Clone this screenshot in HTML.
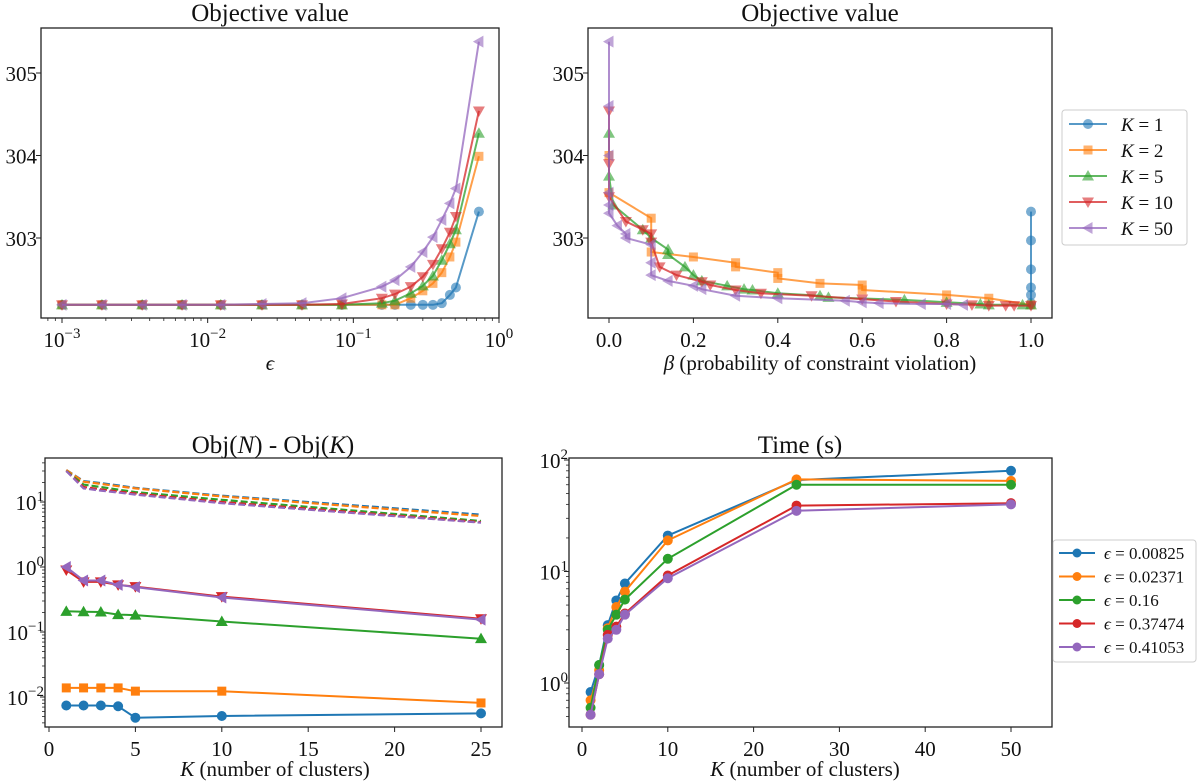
<!DOCTYPE html>
<html><head><meta charset="utf-8">
<style>
html,body{margin:0;padding:0;background:#fff;}
svg{display:block;font-family:"Liberation Serif",serif;}
</style></head>
<body>
<svg id="fig" width="1200" height="782" viewBox="0 0 1200 782" xmlns="http://www.w3.org/2000/svg"></svg>
<script>
const colors=['#1f77b4','#ff7f0e','#2ca02c','#d62728','#9467bd'];
// ---- Panel A: objective vs epsilon
const epsValues=[0.001,0.00188,0.00355,0.00667,0.0123,0.0236,0.0444,0.0835,0.157,0.193,0.248,0.30,0.352,0.405,0.46,0.506,0.728];
const objK1=[302.19,302.19,302.19,302.19,302.19,302.19,302.19,302.19,302.19,302.19,302.19,302.19,302.19,302.21,302.31,302.40,303.32];
const objK2=[302.19,302.19,302.19,302.19,302.19,302.19,302.19,302.19,302.19,302.19,302.27,302.36,302.45,302.58,302.77,302.95,303.99];
const objK5=[302.19,302.19,302.19,302.19,302.19,302.19,302.19,302.19,302.21,302.24,302.33,302.42,302.54,302.73,302.93,303.10,304.27];
const objK10=[302.19,302.19,302.19,302.19,302.19,302.19,302.19,302.20,302.27,302.32,302.41,302.53,302.68,302.87,303.07,303.26,304.54];
const objK50=[302.19,302.19,302.19,302.19,302.19,302.20,302.21,302.27,302.41,302.49,302.65,302.83,303.01,303.22,303.42,303.60,305.38];
const legendA=['K = 1','K = 2','K = 5','K = 10','K = 50'];
// ---- Panel B: objective vs beta
const betaK1=[1,1,1,1,1,1,1];
const objBK1=[303.32,302.97,302.62,302.40,302.31,302.21,302.19];
const betaK2=[0,0,0.1,0.1,0.2,0.3,0.3,0.4,0.4,0.5,0.6,0.6,0.8,0.9,1.0];
const objBK2=[304.0,303.55,303.24,302.83,302.77,302.70,302.65,302.58,302.51,302.45,302.43,302.37,302.31,302.27,302.19];
const betaK5=[0,0,0.01,0.08,0.1,0.14,0.14,0.18,0.2,0.22,0.28,0.32,0.34,0.4,0.5,0.52,0.7,0.8,0.88,0.9,0.98,1.0];
const objBK5=[304.27,303.75,303.4,303.1,303.0,302.86,302.8,302.65,302.55,302.48,302.42,302.38,302.37,302.33,302.30,302.28,302.25,302.22,302.2,302.19,302.19,302.19];
const betaK10=[0,0,0,0.04,0.08,0.1,0.1,0.12,0.16,0.22,0.24,0.3,0.36,0.48,0.6,0.68,0.8,0.86,0.9,0.94,0.96,1.0];
const objBK10=[304.54,303.9,303.5,303.2,303.1,303.05,302.95,302.65,302.55,302.47,302.43,302.37,302.33,302.3,302.26,302.23,302.2,302.19,302.18,302.18,302.18,302.18];
const betaK50=[0,0,0,0,0,0,0.02,0.04,0.04,0.1,0.1,0.1,0.14,0.2,0.22,0.3,0.4,0.56,0.6,0.64,0.74,0.8,0.84];
const objBK50=[305.38,304.6,304.0,303.55,303.4,303.3,303.15,303.05,303.0,302.92,302.7,302.55,302.48,302.42,302.38,302.3,302.27,302.24,302.22,302.21,302.2,302.2,302.19];
// ---- Panel C: Obj(N)-Obj(K)
const kValuesC=[1,2,3,4,5,10,25];
const gapSolid=[[0.0074,0.0074,0.0074,0.0072,0.0048,0.0051,0.0056],[0.0138,0.0138,0.0138,0.0138,0.0123,0.0123,0.0081],[0.208,0.205,0.203,0.185,0.182,0.145,0.079],[0.9,0.59,0.59,0.53,0.5,0.35,0.16],[1.0,0.62,0.62,0.53,0.49,0.34,0.155]];
const gapDashed=[[31,21,19.5,18,16.5,12.5,6.4],[31,20.5,19,17.5,16.2,12.2,6.1],[30,18.5,17,15.5,14.2,10.8,5.1],[30,17,15.7,14.5,13.5,10,4.9],[30,16.2,15,14,13,9.6,4.8]];
// ---- Panel D: Time
const kValuesD=[1,2,3,4,5,10,25,50];
const timeSeries=[[0.83,1.45,3.3,5.5,7.8,21,66,80],[0.7,1.3,3.1,4.8,6.6,19,67,65],[0.6,1.45,3.0,4.1,5.6,13,60,60],[0.52,1.2,2.7,3.2,4.2,9.2,39,41],[0.52,1.2,2.5,3.0,4.1,8.7,35,40]];
const legendD=['0.00825','0.02371','0.16','0.37474','0.41053'];

const NS='http://www.w3.org/2000/svg';
const svg=document.getElementById('fig');
const TF=21, TITLE=25, LAB=21;
function mk(tag,attrs,parent){const e=document.createElementNS(NS,tag);for(const k in attrs)e.setAttribute(k,attrs[k]);(parent||svg).appendChild(e);return e;}
function linS(d0,d1,p0,p1){return v=>p0+(v-d0)/(d1-d0)*(p1-p0);}
function logS(d0,d1,p0,p1){return v=>p0+(Math.log10(v)-Math.log10(d0))/(Math.log10(d1)-Math.log10(d0))*(p1-p0);}
function marker(g,type,x,y,c,op){
  let e;
  if(type==='o'){e=mk('circle',{cx:x,cy:y,r:5,fill:c,'fill-opacity':op},g);}
  else if(type==='s'){e=mk('rect',{x:x-4.5,y:y-4.5,width:9,height:9,fill:c,'fill-opacity':op},g);}
  else if(type==='^'){e=mk('polygon',{points:`${x},${y-6} ${x-6},${y+4.5} ${x+6},${y+4.5}`,fill:c,'fill-opacity':op},g);}
  else if(type==='v'){e=mk('polygon',{points:`${x},${y+6} ${x-6},${y-4.5} ${x+6},${y-4.5}`,fill:c,'fill-opacity':op},g);}
  else {e=mk('polygon',{points:`${x-6},${y} ${x+4.5},${y-6} ${x+4.5},${y+6}`,fill:c,'fill-opacity':op},g);}
  
  
}
function series(g,xs,ys,sx,sy,c,type,opts){
  const pts=xs.map((x,i)=>sx(x).toFixed(1)+','+sy(ys[i]).toFixed(1)).join(' ');
  const l=mk('polyline',{points:pts,fill:'none',stroke:c,'stroke-width':opts.w||2,'stroke-opacity':opts.lo||1,'stroke-dasharray':opts.dash||'none'},g);
  
  
  if(type) xs.forEach((x,i)=>marker(g,type,sx(x),sy(ys[i]),c,opts.mo||1));
}
function frame(x0,y0,x1,y1,name){
  const r=mk('rect',{x:x0,y:y0,width:x1-x0,height:y1-y0,fill:'none',stroke:'#222','stroke-width':1.3});
  
  
}
function txt(x,y,s,size,anchor,name){const t=mk('text',{x:x,y:y,'font-size':size,'text-anchor':anchor||'middle',fill:'#111'});t.textContent=s;return t;}
function powLabel(x,y,exp,anchor,name){
  const t=mk('text',{x:x,y:y,'font-size':TF,'text-anchor':anchor,fill:'#111'});
  
  const a=mk('tspan',{},t);a.textContent='10';
  const b=mk('tspan',{dy:-9,'font-size':15},t);b.textContent=exp;
  return t;
}
function xtick(x,y){mk('line',{x1:x,y1:y,x2:x,y2:y+5,stroke:'#222','stroke-width':1});}
function xminor(x,y){mk('line',{x1:x,y1:y,x2:x,y2:y+3,stroke:'#222','stroke-width':0.8});}
function ytick(x,y){mk('line',{x1:x,y1:y,x2:x-5,y2:y,stroke:'#222','stroke-width':1});}
function yminor(x,y){mk('line',{x1:x,y1:y,x2:x-3,y2:y,stroke:'#222','stroke-width':0.8});}
const markers=['o','s','^','v','<'];

// ===== Panel A
(function(){
  const L=41,R=499,T=28,B=318;
  const sx=logS(0.001,1,62,499), sy=linS(303,305,238,73);
  const g=mk('g',{});
  const ys=[objK1,objK2,objK5,objK10,objK50];
  ys.forEach((s,i)=>series(g,epsValues,s,sx,sy,colors[i],markers[i],{lo:0.75,mo:0.6}));
  frame(L,T,R,B,'epsilon-plot-frame');
  [-3,-2,-1,0].forEach(e=>{const x=sx(Math.pow(10,e));xtick(x,B);powLabel(x,B+29,String(e).replace('-','−'),'middle','x-tick-label');});
  for(let e=-4;e<0;e++)for(let m=2;m<10;m++){const v=m*Math.pow(10,e);const x=sx(v);if(x>=L&&x<=R)xminor(x,B);}
  [303,304,305].forEach(v=>{ytick(L,sy(v));txt(37,sy(v)+8,String(v),TF,'end','y-tick-label');});
  txt(270,21,'Objective value',TITLE,'middle','epsilon-plot-title');
  const xl=txt(270,370,'ϵ',LAB,'middle','x-axis-title');xl.setAttribute('font-style','italic');
})();

// ===== Panel B
(function(){
  const L=588,R=1052,T=28,B=318;
  const sx=linS(0,1,609,1031), sy=linS(303,305,238,73);
  const g=mk('g',{});
  const xs=[betaK1,betaK2,betaK5,betaK10,betaK50], ys=[objBK1,objBK2,objBK5,objBK10,objBK50];
  xs.forEach((x,i)=>series(g,x,ys[i],sx,sy,colors[i],markers[i],{lo:0.75,mo:0.6}));
  frame(L,T,R,B,'beta-plot-frame');
  [0,0.2,0.4,0.6,0.8,1.0].forEach(v=>{xtick(sx(v),B);txt(sx(v),B+29,v.toFixed(1),TF,'middle','x-tick-label');});
  [303,304,305].forEach(v=>{ytick(L,sy(v));txt(584,sy(v)+8,String(v),TF,'end','y-tick-label');});
  txt(820,21,'Objective value',TITLE,'middle','beta-plot-title');
  const t=mk('text',{x:820,y:370,'font-size':LAB,'text-anchor':'middle',fill:'#111'});
  
  const a=mk('tspan',{'font-style':'italic'},t);a.textContent='β';
  const b=mk('tspan',{},t);b.textContent=' (probability of constraint violation)';
  const lg=mk('g',{});
  mk('rect',{x:1062,y:110,width:125,height:135,rx:3,fill:'#fff',stroke:'#ccc','stroke-width':1},lg);
  legendA.forEach((s,i)=>{
    const y=124+i*26;
    const e=mk('g',{},lg);
    mk('line',{x1:1069,y1:y,x2:1107,y2:y,stroke:colors[i],'stroke-width':2,'stroke-opacity':0.75},e);
    marker(e,markers[i],1088,y,colors[i],0.6);
    const t=mk('text',{x:1121,y:y+7,'font-size':19,fill:'#111'},e);
    const k=mk('tspan',{'font-style':'italic'},t);k.textContent='K';
    const r=mk('tspan',{},t);r.textContent=s.slice(1);
  });
})();

// ===== Panel C
(function(){
  const L=45,R=502,T=458,B=727;
  const sx=linS(0,25,49,481), sy=logS(1,10,567,502);
  const g=mk('g',{});
  gapDashed.forEach((s,i)=>series(g,kValuesC,s,sx,sy,colors[i],null,{dash:'7,3',w:2.2}));
  gapSolid.forEach((s,i)=>series(g,kValuesC,s,sx,sy,colors[i],markers[i],{}));
  frame(L,T,R,B,'gap-plot-frame');
  [0,5,10,15,20,25].forEach(v=>{xtick(sx(v),B);txt(sx(v),B+29,String(v),TF,'middle','x-tick-label');});
  [-2,-1,0,1].forEach(e=>{const y=sy(Math.pow(10,e));ytick(L,y);powLabel(44,y+8,String(e).replace('-','−'),'end','y-tick-label');});
  for(let e=-3;e<2;e++)for(let m=2;m<10;m++){const y=sy(m*Math.pow(10,e));if(y>=T&&y<=B)yminor(L,y);}
  const t=mk('text',{x:273,y:453,'font-size':TITLE,'text-anchor':'middle',fill:'#111'});
  
  [['Obj(',0],['N',1],[') - Obj(',0],['K',1],[')',0]].forEach(p=>{const s=mk('tspan',p[1]?{'font-style':'italic'}:{},t);s.textContent=p[0];});
  const xt=mk('text',{x:275,y:776,'font-size':LAB,'text-anchor':'middle',fill:'#111'});
  
  const k=mk('tspan',{'font-style':'italic'},xt);k.textContent='K';const r=mk('tspan',{},xt);r.textContent=' (number of clusters)';
})();

// ===== Panel D
(function(){
  const L=569,R=1052,T=458,B=727;
  const sx=linS(0,50,582,1011), sy=logS(1,100,683,460);
  const g=mk('g',{});
  timeSeries.forEach((s,i)=>series(g,kValuesD,s,sx,sy,colors[i],'o',{}));
  frame(L,T,R,B,'time-plot-frame');
  [0,10,20,30,40,50].forEach(v=>{xtick(sx(v),B);txt(sx(v),B+29,String(v),TF,'middle','x-tick-label');});
  [0,1,2].forEach(e=>{const y=sy(Math.pow(10,e));ytick(L,y);powLabel(568,y+8,String(e),'end','y-tick-label');});
  for(let e=-1;e<2;e++)for(let m=2;m<10;m++){const y=sy(m*Math.pow(10,e));if(y>=T&&y<=B)yminor(L,y);}
  txt(800,453,'Time (s)',TITLE,'middle','time-plot-title');
  const xt=mk('text',{x:805,y:776,'font-size':LAB,'text-anchor':'middle',fill:'#111'});
  
  const k=mk('tspan',{'font-style':'italic'},xt);k.textContent='K';const r=mk('tspan',{},xt);r.textContent=' (number of clusters)';
  const lg=mk('g',{});
  mk('rect',{x:1053,y:540,width:143,height:122,rx:3,fill:'#fff',stroke:'#ccc','stroke-width':1},lg);
  legendD.forEach((s,i)=>{
    const y=553+i*23.5;
    const e=mk('g',{},lg);
    mk('line',{x1:1059,y1:y,x2:1095,y2:y,stroke:colors[i],'stroke-width':2},e);
    mk('circle',{cx:1077,cy:y,r:4.5,fill:colors[i]},e);
    const t=mk('text',{x:1104,y:y+6,'font-size':17,fill:'#111'},e);
    const a=mk('tspan',{'font-style':'italic'},t);a.textContent='ϵ';
    const b=mk('tspan',{},t);b.textContent=' = '+s;
  });
})();
</script>
</body></html>
